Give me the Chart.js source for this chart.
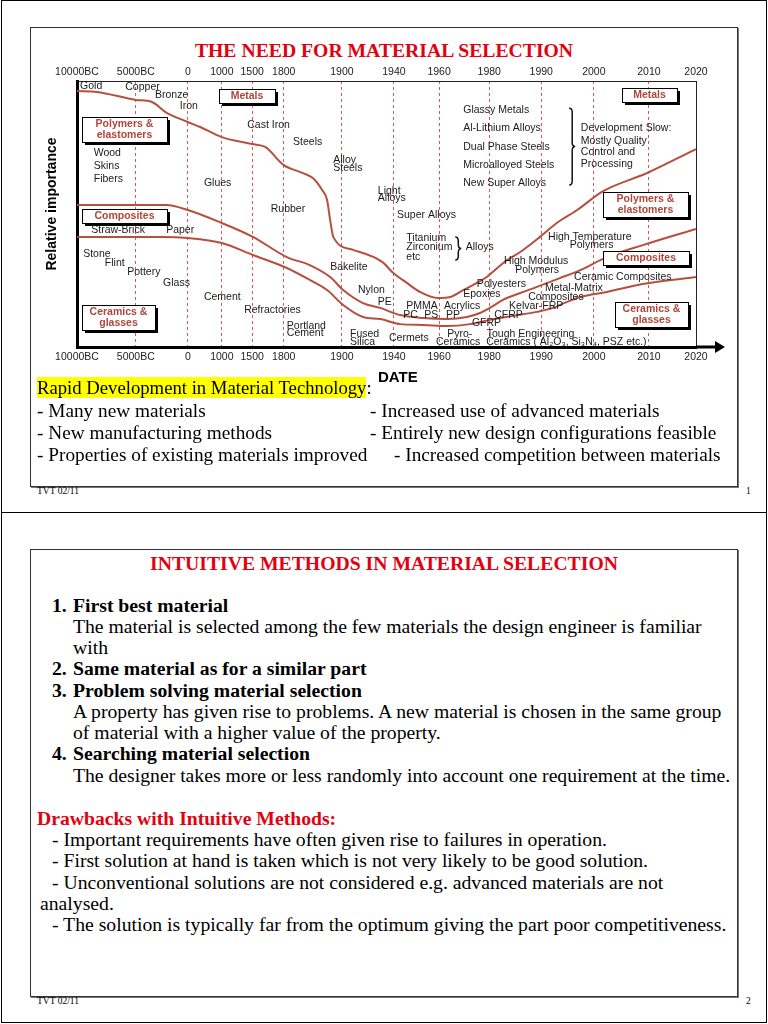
<!DOCTYPE html>
<html>
<head>
<meta charset="utf-8">
<title>The need for material selection</title>
<script src="https://cdn.jsdelivr.net/npm/chart.js@4.4.1/dist/chart.umd.min.js"></script>
<style>
    html, body { margin: 0; padding: 0; background: #fff; }
    body { width: 768px; height: 1024px; position: relative; overflow: hidden; font-family: "Liberation Serif", "Times New Roman", serif; color: #000; }
    .page { position: absolute; left: 1px; width: 764px; border: 1px solid #000; }
    .frame { position: absolute; left: 30px; width: 706px; border: 1px solid #333; box-shadow: 1px 1px 0 #777; }
    .t { position: absolute; white-space: nowrap; font-size: 19.3px; line-height: 20px; }
    .p2 { font-size: 19.7px; }
    .b { font-weight: bold; }
    .red { color: #e3000f; }
    .title { left: 30px; width: 708px; text-align: center; font-weight: bold; font-size: 19.7px; }
    .foot { position: absolute; font-size: 9.5px; line-height: 10px; }
    .num { display: inline-block; width: 21px; }
    #chartWrap { position: absolute; left: 31px; top: 55px; width: 704px; height: 320px; }
    .hl { background: #ffff00; }
</style>
</head>
<body>

<div class="page" style="top:0; height:511px;"></div>
<div class="page" style="top:512px; height:509px;"></div>

<!-- page 1 -->
<div class="frame" style="top:27px; height:458px;"></div>
<div class="t title red" style="top:40px;">THE NEED FOR MATERIAL SELECTION</div>
<div id="chartWrap"><canvas id="materialsChart" width="704" height="320"></canvas></div>
<div class="t b" style="left:378px; top:367px; font-family:'Liberation Sans', Arial, sans-serif; font-size:15px;">DATE</div>
<div class="t" style="left:37px; top:378px; font-size:18.7px;"><span class="hl">Rapid Development in Material Technology</span>:</div>
<div class="t" style="left:37px; top:401px;">- Many new materials</div>
<div class="t" style="left:370px; top:401px;">- Increased use of advanced materials</div>
<div class="t" style="left:37px; top:423px;">- New manufacturing methods</div>
<div class="t" style="left:370px; top:423px;">- Entirely new design configurations feasible</div>
<div class="t" style="left:37px; top:445px;">- Properties of existing materials improved</div>
<div class="t" style="left:394px; top:445px;">- Increased competition between materials</div>
<div class="foot" style="left:37px; top:486px;">TVT 02/11</div>
<div class="foot" style="left:746px; top:486px;">1</div>

<!-- page 2 -->
<div class="frame" style="top:549px; height:446px;"></div>
<div class="t title red" style="top:553px;">INTUITIVE METHODS IN MATERIAL SELECTION</div>
<div class="t p2 b" style="left:52px; top:595px;"><span class="num">1.</span>First best material</div>
<div class="t p2" style="left:73px; top:616px;">The material is selected among the few materials the design engineer is familiar</div>
<div class="t p2" style="left:73px; top:637px;">with</div>
<div class="t p2 b" style="left:52px; top:658px;"><span class="num">2.</span>Same material as for a similar part</div>
<div class="t p2 b" style="left:52px; top:680px;"><span class="num">3.</span>Problem solving material selection</div>
<div class="t p2" style="left:73px; top:701px;">A property has given rise to problems. A new material is chosen in the same group</div>
<div class="t p2" style="left:73px; top:722px;">of material with a higher value of the property.</div>
<div class="t p2 b" style="left:52px; top:743px;"><span class="num">4.</span>Searching material selection</div>
<div class="t p2" style="left:73px; top:765px;">The designer takes more or less randomly into account one requirement at the time.</div>
<div class="t p2 b red" style="left:37px; top:808px;">Drawbacks with Intuitive Methods:</div>
<div class="t p2" style="left:52px; top:829px;">- Important requirements have often given rise to failures in operation.</div>
<div class="t p2" style="left:52px; top:850px;">- First solution at hand is taken which is not very likely to be good solution.</div>
<div class="t p2" style="left:52px; top:872px;">- Unconventional solutions are not considered e.g. advanced materials are not</div>
<div class="t p2" style="left:40px; top:893px;">analysed.</div>
<div class="t p2" style="left:52px; top:914px;">- The solution is typically far from the optimum giving the part poor competitiveness.</div>
<div class="foot" style="left:37px; top:996px;">TVT 02/11</div>
<div class="foot" style="left:746px; top:996px;">2</div>

<script>
// The date axis is not linear in time: every tick has its own place along the axis (0 - 100 %)
const tickLabels = ['10000BC', '5000BC', '0', '1000', '1500', '1800', '1900', '1940', '1960', '1980', '1990', '2000', '2010', '2020'];
const tickPositions = [0, 9.5, 17.9, 23.4, 28.3, 33.4, 42.8, 51.2, 58.5, 66.6, 75.0, 83.5, 92.4, 100];

// Band boundaries, relative importance 0 - 100
// metals (above) / polymers & elastomers (below)
const metalsLineX = [0, 3.2, 9.5, 12.1, 14.5, 17.9, 19.9, 23.4, 28.3, 30.4, 33.4, 36.5, 38.1, 39.6, 40.4, 40.9, 41.4, 44.6, 49.3, 51.1, 53.3, 55.4, 58.3, 60.3, 62.4, 64.6, 66.2, 67.9, 69.5, 71.6, 74.8, 77.5, 80.8, 85.0, 92.1, 100];
const metalsLineY = [96.2, 95.9, 92.9, 92.1, 88.0, 84.6, 82.7, 78.9, 76.3, 75.2, 68.4, 65.4, 63.5, 59.0, 55.3, 47.7, 41.4, 36.5, 32.0, 27.8, 24.1, 20.7, 18.4, 18.8, 21.4, 24.1, 26.3, 29.7, 32.7, 35.7, 41.4, 46.6, 51.5, 58.6, 65.4, 74.4];
// polymers & elastomers / composites
const polymersLineX = [0, 14.5, 17.9, 23.4, 28.4, 33.9, 37.6, 40.9, 43.0, 46.2, 49.0, 52.2, 55.9, 59.8, 63.0, 65.1, 66.7, 68.8, 71.6, 74.3, 78.0, 81.3, 85.6, 91.4, 100];
const polymersLineY = [53.4, 53.4, 51.5, 46.6, 41.4, 33.8, 30.8, 26.3, 21.4, 16.5, 14.7, 12.0, 10.9, 10.5, 11.3, 12.8, 14.7, 17.7, 20.3, 22.6, 25.9, 28.9, 33.8, 38.3, 44.4];
// composites / ceramics & glasses
const compositesLineX = [0, 13.9, 17.9, 23.4, 28.4, 33.9, 37.6, 40.4, 43.0, 46.2, 49.0, 52.2, 55.9, 59.8, 63.5, 66.7, 70.4, 74.3, 76.9, 78.4, 81.3, 85.6, 91.4, 100];
const compositesLineY = [41.4, 41.4, 41.0, 39.1, 34.6, 29.7, 25.2, 21.4, 15.8, 11.3, 10.5, 8.6, 8.3, 7.9, 8.6, 10.2, 11.7, 13.2, 14.7, 16.2, 18.8, 20.7, 23.7, 26.3];

// Material names written on the chart: text, date position, importance
const materialLabels = [
    ['Gold', 0.5, 98.1], ['Copper', 7.8, 97.7], ['Bronze', 12.6, 94.7], ['Iron', 16.6, 90.6],
    ['Cast Iron', 27.5, 83.5], ['Steels', 34.9, 77.1],
    ['Wood', 2.7, 72.9], ['Skins', 2.7, 68.0], ['Fibers', 2.7, 63.2],
    ['Alloy', 41.4, 70.3], ['Steels', 41.4, 67.3], ['Glues', 20.5, 61.7],
    ['Light', 48.6, 58.6], ['Alloys', 48.6, 56.0],
    ['Glassy Metals', 62.4, 89.1], ['Al-Lithium Alloys', 62.4, 82.3], ['Dual Phase Steels', 62.4, 75.2],
    ['Microalloyed Steels', 62.4, 68.4], ['New Super Alloys', 62.4, 61.7],
    ['Development Slow:', 81.4, 82.3], ['Mostly Quality', 81.4, 77.4], ['Control and', 81.4, 73.3], ['Processing', 81.4, 68.8],
    ['Rubber', 31.3, 51.9], ['Straw-Brick', 2.3, 44.0], ['Paper', 14.4, 44.0],
    ['Stone', 1.0, 35.0], ['Flint', 4.5, 31.6], ['Pottery', 8.1, 28.2], ['Glass', 13.9, 24.1],
    ['Cement', 20.5, 18.8], ['Refractories', 27.0, 13.9], ['Portland', 33.9, 7.9], ['Cement', 33.9, 5.3],
    ['Bakelite', 40.9, 30.1], ['Nylon', 45.4, 21.4], ['PE', 48.6, 16.9], ['Fused', 44.1, 4.9], ['Silica', 44.1, 1.9],
    ['Super Alloys', 51.7, 49.6], ['Titanium', 53.2, 41.0], ['Zirconium', 53.2, 37.6], ['etc', 53.2, 33.8], ['Alloys', 62.8, 37.6],
    ['High Temperature', 76.1, 41.4], ['Polymers', 79.6, 38.3], ['High Modulus', 69.0, 32.3], ['Polymers', 70.8, 28.9],
    ['Ceramic Composites', 80.3, 26.3], ['Polyesters', 64.6, 23.7], ['Metal-Matrix', 75.6, 22.2], ['Composites', 72.9, 18.8],
    ['Epoxies', 62.4, 19.9], ['PMMA', 53.2, 15.4], ['Acrylics', 59.3, 15.4], ['PC', 52.7, 12.0], ['PS', 56.1, 12.0], ['PP', 59.6, 12.0],
    ['Kelvar-FRP', 69.8, 15.4], ['CFRP', 67.4, 12.0], ['GFRP', 63.8, 9.0],
    ['Cermets', 50.4, 3.4], ['Pyro-', 59.8, 4.9], ['Ceramics', 58.0, 1.9],
    ['Tough Engineering', 66.2, 4.9], ['Ceramics ( Al\u2082O\u2083, Si\u2083N\u2084, PSZ etc.)', 66.1, 1.9]
];

// Framed band names: lines, from, to, importance at the middle
const bandBoxes = [
    [['Metals'], 22.9, 32.0, 94.5],
    [['Polymers &', 'elastomers'], 0.8, 14.5, 81.8],
    [['Composites'], 0.8, 14.5, 49.2],
    [['Ceramics &', 'glasses'], 0.8, 12.6, 11.1],
    [['Metals'], 88.0, 96.9, 94.7],
    [['Polymers &', 'elastomers'], 85.0, 98.7, 53.4],
    [['Composites'], 85.0, 98.9, 33.5],
    [['Ceramics &', 'glasses'], 86.9, 98.7, 12.2]
];

// Curly braces: date position, importance from, to
const braces = [[80.0, 89.8, 60.9], [61.6, 41.4, 32.7]];

function toPoints(xs, ys) {
    return xs.map(function (x, i) { return { x: x, y: ys[i] }; });
}

const sansFont = '"Liberation Sans", Arial, sans-serif';

// Draw labels, boxes, braces, axis title and the arrow on the date axis
const annotationsPlugin = {
    id: 'annotations',
    afterDatasetsDraw: function (chart) {
        const ctx = chart.ctx;
        const xs = chart.scales.x;
        const ys = chart.scales.y;
        const area = chart.chartArea;
        ctx.save();

        ctx.font = '10.5px ' + sansFont;
        ctx.fillStyle = '#1a1a1a';
        ctx.textBaseline = 'middle';
        ctx.textAlign = 'left';
        materialLabels.forEach(function (l) {
            ctx.fillText(l[0], xs.getPixelForValue(l[1]), ys.getPixelForValue(l[2]));
        });

        bandBoxes.forEach(function (b) {
            const x1 = Math.round(xs.getPixelForValue(b[1]));
            const x2 = Math.round(xs.getPixelForValue(b[2]));
            const h = b[0].length * 11 + 3;
            const y1 = Math.round(ys.getPixelForValue(b[3]) - h / 2);
            ctx.fillStyle = '#000';
            ctx.fillRect(x1 + 3, y1 + 3, x2 - x1, h);
            ctx.fillStyle = '#fff';
            ctx.fillRect(x1, y1, x2 - x1, h);
            ctx.strokeStyle = '#000';
            ctx.lineWidth = 1;
            ctx.strokeRect(x1 + 0.5, y1 + 0.5, x2 - x1, h);
            ctx.fillStyle = '#b0463a';
            ctx.font = 'bold 10.5px ' + sansFont;
            ctx.textAlign = 'center';
            b[0].forEach(function (t, i) {
                ctx.fillText(t, (x1 + x2) / 2, y1 + 7.5 + i * 11);
            });
        });

        ctx.strokeStyle = '#111';
        ctx.lineWidth = 1.5;
        braces.forEach(function (br) {
            const x = xs.getPixelForValue(br[0]);
            const y1 = ys.getPixelForValue(br[1]);
            const y2 = ys.getPixelForValue(br[2]);
            const m = (y1 + y2) / 2;
            ctx.beginPath();
            ctx.moveTo(x - 3, y1);
            ctx.quadraticCurveTo(x, y1, x, y1 + 4);
            ctx.lineTo(x, m - 4);
            ctx.quadraticCurveTo(x, m, x + 3, m);
            ctx.quadraticCurveTo(x, m, x, m + 4);
            ctx.lineTo(x, y2 - 4);
            ctx.quadraticCurveTo(x, y2, x - 3, y2);
            ctx.stroke();
        });

        // arrow at the end of the date axis
        ctx.fillStyle = '#000';
        ctx.strokeStyle = '#000';
        ctx.lineWidth = 3;
        ctx.beginPath();
        ctx.moveTo(area.right, area.bottom);
        ctx.lineTo(area.right + 22, area.bottom);
        ctx.stroke();
        ctx.beginPath();
        ctx.moveTo(area.right + 19, area.bottom - 6);
        ctx.lineTo(area.right + 29, area.bottom);
        ctx.lineTo(area.right + 19, area.bottom + 6);
        ctx.closePath();
        ctx.fill();

        // vertical axis title
        ctx.translate(21, (area.top + area.bottom) / 2 - 10);
        ctx.rotate(-Math.PI / 2);
        ctx.font = 'bold 14px ' + sansFont;
        ctx.textAlign = 'center';
        ctx.fillText('Relative importance', 0, 0);
        ctx.restore();
    }
};

function setDateTicks(axis) {
    axis.ticks = tickPositions.map(function (v) { return { value: v }; });
}

function dateLabel(value, index) {
    return tickLabels[index];
}

const lineStyle = {
    borderColor: '#b5503f',
    borderWidth: 2,
    pointRadius: 0,
    fill: false,
    cubicInterpolationMode: 'monotone'
};

new Chart(document.getElementById('materialsChart'), {
    type: 'line',
    data: {
        datasets: [
            Object.assign({ label: 'Metals', data: toPoints(metalsLineX, metalsLineY) }, lineStyle),
            Object.assign({ label: 'Polymers & elastomers', data: toPoints(polymersLineX, polymersLineY) }, lineStyle),
            Object.assign({ label: 'Composites', data: toPoints(compositesLineX, compositesLineY) }, lineStyle)
        ]
    },
    options: {
        responsive: false,
        animation: false,
        layout: { padding: { left: 46, right: 39, top: 0, bottom: 8 } },
        plugins: {
            legend: { display: false },
            tooltip: { enabled: false }
        },
        scales: {
            x: {
                type: 'linear',
                position: 'bottom',
                min: 0,
                max: 100,
                afterBuildTicks: setDateTicks,
                afterFit: function (scale) { scale.height = 20; },
                ticks: {
                    autoSkip: false,
                    maxRotation: 0,
                    padding: 4,
                    color: '#222',
                    font: { family: sansFont, size: 10.5 },
                    callback: dateLabel
                },
                grid: { display: true, drawTicks: false, color: 'rgba(205,60,60,0.85)', lineWidth: 1 },
                border: { display: true, color: '#000', width: 3, dash: [3, 3] }
            },
            xTop: {
                type: 'linear',
                position: 'top',
                min: 0,
                max: 100,
                afterBuildTicks: setDateTicks,
                afterFit: function (scale) { scale.height = 26; },
                ticks: {
                    autoSkip: false,
                    maxRotation: 0,
                    padding: 3,
                    color: '#222',
                    font: { family: sansFont, size: 10.5 },
                    callback: dateLabel
                },
                grid: { display: false, drawTicks: false },
                border: { display: true, color: '#222', width: 1 }
            },
            y: {
                type: 'linear',
                position: 'left',
                min: 0,
                max: 100,
                afterFit: function (scale) { scale.width = 0; },
                ticks: { display: false },
                grid: { display: false },
                border: { display: true, color: '#000', width: 3 }
            },
            yRight: {
                type: 'linear',
                position: 'right',
                min: 0,
                max: 100,
                afterFit: function (scale) { scale.width = 0; },
                ticks: { display: false },
                grid: { display: false },
                border: { display: true, color: '#222', width: 1 }
            }
        }
    },
    plugins: [annotationsPlugin]
});
</script>
</body>
</html>
